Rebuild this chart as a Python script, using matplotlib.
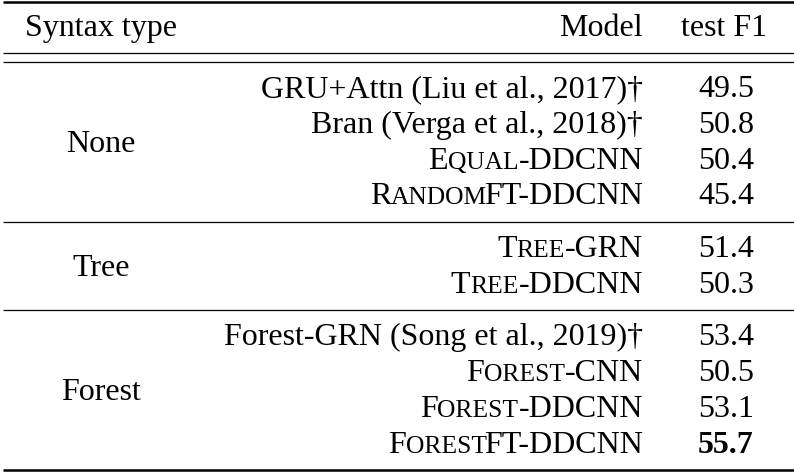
import matplotlib
matplotlib.use('Agg')
import matplotlib.pyplot as plt

# table content
headers = ["Syntax type", "Model", "test F1"]
groups = ["None", "Tree", "Forest"]
group_sizes = [4, 2, 4]
# each model name as list of (text, small_caps) pieces
models = [
    [("GRU+Attn (Liu et al., 2017)\u2020", False)],
    [("Bran (Verga et al., 2018)\u2020", False)],
    [("E", False), ("QUAL", True), ("-DDCNN", False)],
    [("R", False), ("ANDOM", True), ("FT-DDCNN", False)],
    [("T", False), ("REE", True), ("-GRN", False)],
    [("T", False), ("REE", True), ("-DDCNN", False)],
    [("Forest-GRN (Song et al., 2019)\u2020", False)],
    [("F", False), ("OREST", True), ("-CNN", False)],
    [("F", False), ("OREST", True), ("-DDCNN", False)],
    [("F", False), ("OREST", True), ("FT-DDCNN", False)],
]
scores = [49.5, 50.8, 50.4, 45.4, 51.4, 50.3, 53.4, 50.5, 53.1, 55.7]
best = max(scores)

FS = 23
SC = FS * 0.8
plt.rcParams['font.family'] = ['Liberation Serif', 'DejaVu Serif']

fig = plt.figure(figsize=(7.94, 4.74), dpi=100)
ax = fig.add_axes([0, 0, 1, 1])
ax.set_xlim(0, 794)
ax.set_ylim(474, 0)
ax.axis('off')
fig.canvas.draw()
renderer = fig.canvas.get_renderer()

x_syn = 101
x_model = 643
x_score = 726
row_h = 35.8
lw_thick = 1.8
lw_thin = 0.9


def hline(y, lw):
    ax.plot([3, 794], [y, y], color='black', lw=lw, solid_capstyle='butt')


def rich_right(pieces, x, y):
    # draw pieces right-aligned ending at x
    prev_letter = False
    for txt, small in reversed(pieces):
        if small and prev_letter:
            x += 3  # tighten small caps against a following capital
        t = ax.text(x, y, txt, ha='right', va='baseline',
                    fontsize=SC if small else FS)
        x -= t.get_window_extent(renderer).width
        prev_letter = txt[0].isalpha()


hline(1.5, lw_thick)
head_base = 36
ax.text(25, head_base, headers[0], ha='left', va='baseline', fontsize=FS)
ax.text(x_model, head_base, headers[1], ha='right', va='baseline', fontsize=FS)
ax.text(767, head_base, headers[2], ha='right', va='baseline', fontsize=FS)
hline(53, lw_thin)
hline(62, lw_thin)

line_y = 62
row = 0
for gi, (g, n) in enumerate(zip(groups, group_sizes)):
    bases = []
    for k in range(n):
        base = line_y + 35 + k * row_h
        bases.append(base)
        rich_right(models[row], x_model, base)
        s = scores[row]
        ax.text(x_score, base, f"{s:.1f}", ha='center', va='baseline',
                fontsize=FS, fontweight='bold' if s == best else 'normal')
        row += 1
    ax.text(x_syn, sum(bases) / n + 1, g, ha='center', va='baseline', fontsize=FS)
    line_y = bases[-1] + 17.5
    hline(line_y, lw_thick if gi == len(groups) - 1 else lw_thin)

fig.savefig('out.png', dpi=100, facecolor='white')
